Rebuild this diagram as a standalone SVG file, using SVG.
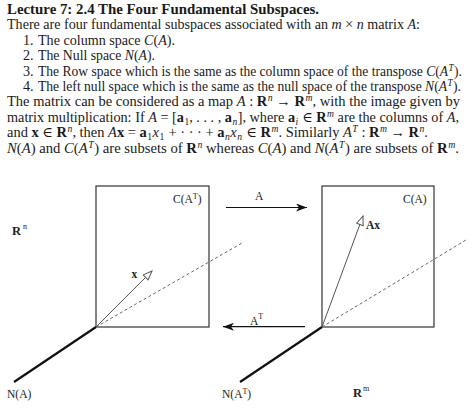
<svg xmlns="http://www.w3.org/2000/svg" width="474" height="410" viewBox="0 0 474 410">
<style>
.t{font-family:"Liberation Serif","DejaVu Serif",serif;font-size:14.2px;fill:#1a1a1a}
.b{font-weight:bold}
.i{font-style:italic}
.l{font-family:"Liberation Serif","DejaVu Serif",serif;font-size:11.5px;fill:#222}
.box{fill:none;stroke:#333;stroke-width:1.2}
.thick{stroke:#111;stroke-width:2.2;fill:none}
.dash{stroke:#666;stroke-width:1;stroke-dasharray:3,2.5;fill:none}
.vec{stroke:#555;stroke-width:1;fill:none}
.map{stroke:#111;stroke-width:1.2;fill:none}
</style>
<defs>
<marker id="fa" markerUnits="userSpaceOnUse" markerWidth="12" markerHeight="10" refX="11" refY="4" orient="auto">
<path d="M0,0 L11,4 L0,8 L3,4 Z" fill="#111"/>
</marker>
<marker id="oa" markerUnits="userSpaceOnUse" markerWidth="12" markerHeight="10" refX="10" refY="4" orient="auto">
<path d="M1,0.5 L10,4 L1,7.5 Z" fill="#fff" stroke="#555" stroke-width="1"/>
</marker>
</defs>

<g id="text">
<text class="t b" x="7" y="14" textLength="312" lengthAdjust="spacingAndGlyphs">Lecture 7: 2.4 The Four Fundamental Subspaces.</text>
<text class="t" x="7" y="29.4" textLength="413" lengthAdjust="spacingAndGlyphs">There are four fundamental subspaces associated with an <tspan class="i">m</tspan> × <tspan class="i">n</tspan> matrix <tspan class="i">A</tspan>:</text>
<text class="t" x="23" y="44.8">1.</text>
<text class="t" x="38" y="44.8" textLength="137" lengthAdjust="spacingAndGlyphs">The column space <tspan class="i">C</tspan>(<tspan class="i">A</tspan>).</text>
<text class="t" x="23" y="60.2">2.</text>
<text class="t" x="38" y="60.2" textLength="117" lengthAdjust="spacingAndGlyphs">The Null space <tspan class="i">N</tspan>(<tspan class="i">A</tspan>).</text>
<text class="t" x="23" y="75.6">3.</text>
<text class="t" x="38" y="75.6" textLength="424" lengthAdjust="spacingAndGlyphs">The Row space which is the same as the column space of the transpose <tspan class="i">C</tspan>(<tspan class="i">A</tspan><tspan class="i" font-size="9.5" dx="0.5" dy="-5">T</tspan><tspan dx="0.5" dy="5">).</tspan></text>
<text class="t" x="23" y="91">4.</text>
<text class="t" x="38" y="91" textLength="423" lengthAdjust="spacingAndGlyphs">The left null space which is the same as the null space of the transpose <tspan class="i">N</tspan>(<tspan class="i">A</tspan><tspan class="i" font-size="9.5" dx="0.5" dy="-5">T</tspan><tspan dx="0.5" dy="5">).</tspan></text>
<text class="t" x="7" y="106.4" textLength="453" lengthAdjust="spacingAndGlyphs">The matrix can be considered as a map <tspan class="i">A</tspan> : <tspan class="b">R</tspan><tspan class="i" font-size="9.5" dx="0.5" dy="-5">n</tspan><tspan dy="5"> → </tspan><tspan class="b">R</tspan><tspan class="i" font-size="9.5" dx="0.5" dy="-5">m</tspan><tspan dy="5">, with the image given by</tspan></text>
<text class="t" x="7" y="121.8" textLength="452" lengthAdjust="spacingAndGlyphs">matrix multiplication: If <tspan class="i">A</tspan> = [<tspan class="b">a</tspan><tspan font-size="9.5" dx="0.5" dy="3">1</tspan><tspan dy="-3">, . . . , </tspan><tspan class="b">a</tspan><tspan class="i" font-size="9.5" dx="0.5" dy="3">n</tspan><tspan dx="0.5" dy="-3">], where </tspan><tspan class="b">a</tspan><tspan class="i" font-size="9.5" dx="0.5" dy="3">i</tspan><tspan dx="0.5" dy="-3"> ∈ </tspan><tspan class="b">R</tspan><tspan class="i" font-size="9.5" dx="0.5" dy="-5">m</tspan><tspan dy="5"> are the columns of </tspan><tspan class="i">A</tspan>,</text>
<text class="t" x="7" y="137.2" textLength="421" lengthAdjust="spacingAndGlyphs">and <tspan class="b">x</tspan> ∈ <tspan class="b">R</tspan><tspan class="i" font-size="9.5" dx="0.5" dy="-5">n</tspan><tspan dy="5">, then </tspan><tspan class="i">A</tspan><tspan class="b">x</tspan> = <tspan class="b">a</tspan><tspan font-size="9.5" dx="0.5" dy="3">1</tspan><tspan class="i" dx="0.5" dy="-3">x</tspan><tspan font-size="9.5" dx="0.5" dy="3">1</tspan><tspan dx="0.5" dy="-3"> + · · · + </tspan><tspan class="b">a</tspan><tspan class="i" font-size="9.5" dx="0.5" dy="3">n</tspan><tspan class="i" dx="0.5" dy="-3">x</tspan><tspan class="i" font-size="9.5" dx="0.5" dy="3">n</tspan><tspan dx="0.5" dy="-3"> ∈ </tspan><tspan class="b">R</tspan><tspan class="i" font-size="9.5" dx="0.5" dy="-5">m</tspan><tspan dy="5">. Similarly </tspan><tspan class="i">A</tspan><tspan class="i" font-size="9.5" dx="0.5" dy="-5">T</tspan><tspan dy="5"> : </tspan><tspan class="b">R</tspan><tspan class="i" font-size="9.5" dx="0.5" dy="-5">m</tspan><tspan dy="5"> → </tspan><tspan class="b">R</tspan><tspan class="i" font-size="9.5" dx="0.5" dy="-5">n</tspan><tspan dy="5">.</tspan></text>
<text class="t" x="7" y="152.6" textLength="452" lengthAdjust="spacingAndGlyphs"><tspan class="i">N</tspan>(<tspan class="i">A</tspan>) and <tspan class="i">C</tspan>(<tspan class="i">A</tspan><tspan class="i" font-size="9.5" dx="0.5" dy="-5">T</tspan><tspan dx="0.5" dy="5">) are subsets of </tspan><tspan class="b">R</tspan><tspan class="i" font-size="9.5" dx="0.5" dy="-5">n</tspan><tspan dy="5"> whereas </tspan><tspan class="i">C</tspan>(<tspan class="i">A</tspan>) and <tspan class="i">N</tspan>(<tspan class="i">A</tspan><tspan class="i" font-size="9.5" dx="0.5" dy="-5">T</tspan><tspan dx="0.5" dy="5">) are subsets of </tspan><tspan class="b">R</tspan><tspan class="i" font-size="9.5" dx="0.5" dy="-5">m</tspan><tspan dy="5">.</tspan></text>
</g>

<g id="rowspace">
<rect class="box" x="96" y="186" width="113" height="141"/>
<text class="l" x="173" y="203">C(A<tspan font-size="8" dy="-4">T</tspan><tspan dy="4">)</tspan></text>
</g>
<g id="colspace">
<rect class="box" x="322" y="186" width="112" height="141"/>
<text class="l" x="403" y="203">C(A)</text>
</g>
<g id="nullspace">
<text class="l" x="7" y="398">N(A)</text>
</g>
<g id="leftnullspace">
<text class="l" x="222" y="398">N(A<tspan font-size="8" dy="-4">T</tspan><tspan dy="4">)</tspan></text>
</g>
<g id="Rn">
<text class="l" x="12" y="235"><tspan font-weight="bold" font-size="12.5">R</tspan><tspan font-size="8" dx="2" dy="-6">n</tspan></text>
</g>
<g id="Rm">
<text class="l" x="353" y="396.5"><tspan font-weight="bold" font-size="12.5">R</tspan><tspan font-size="8" dx="1" dy="-6">m</tspan></text>
</g>

<g id="connectors">
<line class="thick" x1="96" y1="327" x2="14" y2="382"/>
<line class="thick" x1="322" y1="327" x2="240" y2="382"/>
<line class="dash" x1="96" y1="327" x2="242" y2="243"/>
<line class="dash" x1="322" y1="327" x2="466" y2="240"/>
<line class="vec" x1="96" y1="327" x2="152" y2="271" marker-end="url(#oa)"/>
<line class="vec" x1="322" y1="327" x2="363" y2="216" marker-end="url(#oa)"/>
<line class="map" x1="226" y1="207.5" x2="307" y2="207.5" marker-end="url(#fa)"/>
<line class="map" x1="305" y1="326.7" x2="223" y2="326.7" marker-end="url(#fa)"/>
<text class="l" x="255" y="200">A</text>
<text class="l" x="250" y="324.5">A<tspan font-size="8" dy="-6">T</tspan></text>
<text class="l b" x="131.5" y="277.5">x</text>
<text class="l b" x="366" y="228.5">Ax</text>
</g>
</svg>
